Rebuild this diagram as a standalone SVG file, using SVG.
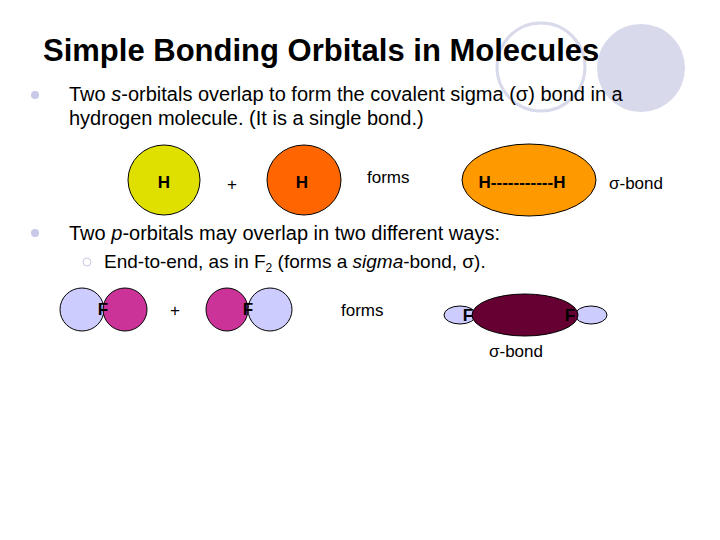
<svg xmlns="http://www.w3.org/2000/svg" width="720" height="540" viewBox="0 0 720 540">
<style>
text{font-family:"Liberation Sans",Arial,sans-serif;fill:#000}
.b{font-size:20px}
.l{font-size:17px}
.o{stroke:#000;stroke-width:1}
.hb{font-size:17px;font-weight:bold}
</style>
<rect width="720" height="540" fill="#fff"/>
<g id="decor">
<circle cx="541" cy="67" r="44" fill="none" stroke="#d9d9ec" stroke-width="3"/>
<circle cx="641" cy="68" r="44" fill="#d9d9ec"/>
</g>
<text x="43" y="61" font-size="31" font-weight="bold">Simple Bonding Orbitals in Molecules</text>
<circle cx="35" cy="95" r="4" fill="#c8c8e8"/>
<text class="b" x="69" y="101">Two <tspan font-style="italic">s</tspan>-orbitals overlap to form the covalent sigma (σ) bond in a</text>
<text class="b" x="69" y="125">hydrogen molecule.  (It is a single bond.)</text>
<g id="h1"><ellipse class="o" cx="164" cy="180" rx="36" ry="35" fill="#e0e000"/><text class="hb" x="164" y="188" text-anchor="middle">H</text></g>
<text class="l" x="232" y="190" text-anchor="middle">+</text>
<g id="h2"><ellipse class="o" cx="304" cy="180" rx="37" ry="35" fill="#ff6600"/><text class="hb" x="302" y="188" text-anchor="middle">H</text></g>
<text class="l" x="367" y="183">forms</text>
<g id="h2mol"><ellipse class="o" cx="529" cy="180" rx="67" ry="36" fill="#ff9900"/><text class="hb" x="522" y="188" text-anchor="middle">H-----------H</text></g>
<text class="l" x="609" y="189">σ-bond</text>
<circle cx="35" cy="233" r="4" fill="#c8c8e8"/>
<text class="b" x="69" y="240">Two <tspan font-style="italic">p</tspan>-orbitals may overlap in two different ways:</text>
<circle cx="87" cy="262" r="4" fill="none" stroke="#c8c8e8"/>
<text x="104" y="268" font-size="19">End-to-end, as in F<tspan font-size="12" dy="4">2</tspan><tspan dy="-4"> (forms a </tspan><tspan font-style="italic">sigma</tspan>-bond, σ).</text>
<g id="f1">
<ellipse class="o" cx="82" cy="309.5" rx="22" ry="21.5" fill="#ccccff"/>
<ellipse class="o" cx="125" cy="309.5" rx="22" ry="21.5" fill="#cc3399"/>
<text class="hb" x="103" y="315" text-anchor="middle">F</text>
</g>
<text class="l" x="175" y="316" text-anchor="middle">+</text>
<g id="f2">
<ellipse class="o" cx="227" cy="309.5" rx="21" ry="21.5" fill="#cc3399"/>
<ellipse class="o" cx="270" cy="309.5" rx="22" ry="21.5" fill="#ccccff"/>
<text class="hb" x="248" y="315" text-anchor="middle">F</text>
</g>
<text class="l" x="341" y="316">forms</text>
<g id="f2mol">
<ellipse class="o" cx="460" cy="315" rx="16" ry="9" fill="#ccccff"/>
<ellipse class="o" cx="591" cy="315" rx="16" ry="9" fill="#ccccff"/>
<ellipse class="o" cx="525" cy="315" rx="53" ry="21" fill="#660033"/>
<text class="hb" x="468" y="321" text-anchor="middle">F</text>
<text class="hb" x="570" y="321" text-anchor="middle">F</text>
</g>
<text class="l" x="516" y="357" text-anchor="middle">σ-bond</text>
</svg>
